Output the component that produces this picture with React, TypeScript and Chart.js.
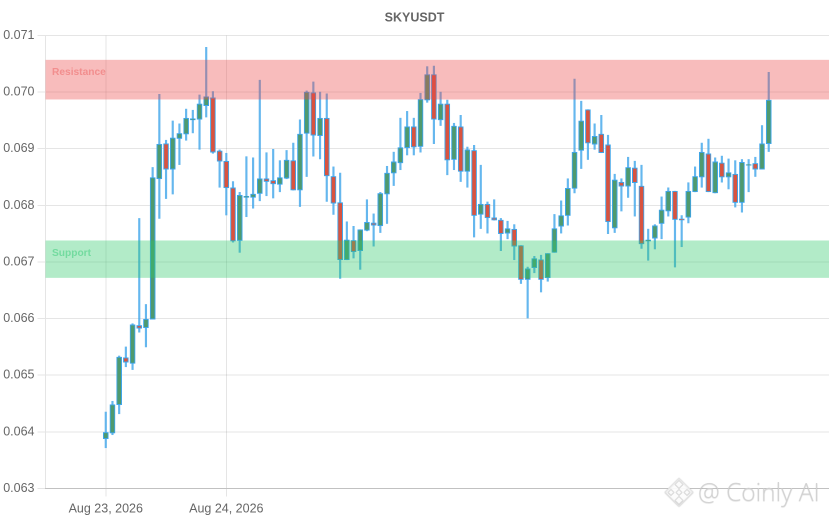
import React, { useEffect, useRef } from "react";
import { Chart, registerables } from "chart.js";

Chart.register(...registerables);

const title = "SKYUSDT";
const dateTicks = [0, 18];
const dateLabels = ["Aug 23, 2026", "Aug 24, 2026"];
const yTicks = [0.063, 0.064, 0.065, 0.066, 0.067, 0.068, 0.069, 0.07, 0.071];

const opens = [
  0.06388, 0.06398, 0.06448, 0.06531, 0.06521, 0.06588, 0.06584, 0.06599, 0.06847, 0.06909,
  0.06864, 0.06918, 0.06926, 0.06951, 0.06952, 0.06976, 0.0699, 0.06896, 0.06878, 0.06831,
  0.06738, 0.06814, 0.06814, 0.06821, 0.06847, 0.06844, 0.06837, 0.06848, 0.06879, 0.06827,
  0.06927, 0.06999, 0.06923, 0.06954, 0.06851, 0.06805, 0.06704, 0.06738, 0.0672, 0.06756,
  0.06769, 0.06764, 0.0682, 0.06857, 0.06875, 0.06902, 0.06939, 0.06904, 0.06986, 0.07031,
  0.06951, 0.06979, 0.06881, 0.06939, 0.0686, 0.06897, 0.06784, 0.06802, 0.06778, 0.06774,
  0.06751, 0.06758, 0.06729, 0.06669, 0.0669, 0.06704, 0.06672, 0.06717, 0.06763, 0.06782,
  0.0683, 0.06897, 0.06969, 0.06908, 0.06926, 0.06907, 0.0676, 0.06841, 0.06834, 0.06866,
  0.06834, 0.06737, 0.06742, 0.06768, 0.0679, 0.06825, 0.06776, 0.06779, 0.06824, 0.0685,
  0.06891, 0.06822, 0.06875, 0.0685, 0.06855, 0.06805, 0.06871, 0.06874, 0.06864, 0.06909,
];
const closes = [
  0.06399, 0.06448, 0.06532, 0.06523, 0.06589, 0.06583, 0.06599, 0.06849, 0.06908, 0.06864,
  0.06919, 0.06927, 0.06954, 0.06953, 0.06979, 0.06992, 0.06894, 0.06878, 0.06831, 0.06737,
  0.06818, 0.06816, 0.0682, 0.06847, 0.06842, 0.06838, 0.06849, 0.0688, 0.06827, 0.06926,
  0.07, 0.06924, 0.06954, 0.06852, 0.06804, 0.06704, 0.06739, 0.06718, 0.06757, 0.0677,
  0.06765, 0.06821, 0.06857, 0.06877, 0.06902, 0.06939, 0.06903, 0.06987, 0.07031, 0.06952,
  0.06979, 0.0688, 0.0694, 0.0686, 0.06898, 0.06782, 0.06802, 0.06778, 0.06774, 0.0675,
  0.06759, 0.06728, 0.06669, 0.06688, 0.06706, 0.06669, 0.06715, 0.06759, 0.06782, 0.0683,
  0.06894, 0.06949, 0.0691, 0.06922, 0.06893, 0.06771, 0.06845, 0.06834, 0.06867, 0.0684,
  0.06732, 0.06739, 0.06764, 0.06792, 0.06825, 0.06775, 0.06774, 0.06825, 0.06851, 0.06894,
  0.06824, 0.06877, 0.0685, 0.06858, 0.06805, 0.06876, 0.06872, 0.06864, 0.06909, 0.06986,
];
const highs = [
  0.06435, 0.06454, 0.06534, 0.0655, 0.06591, 0.06777, 0.06625, 0.06867, 0.06996, 0.06915,
  0.06949, 0.06944, 0.0697, 0.06968, 0.06995, 0.07079, 0.07001, 0.06898, 0.06892, 0.06842,
  0.06823, 0.06886, 0.06884, 0.07021, 0.06893, 0.06899, 0.06879, 0.06897, 0.0691, 0.06951,
  0.07002, 0.07018, 0.07, 0.06997, 0.06868, 0.06857, 0.06771, 0.06763, 0.06757, 0.0681,
  0.06785, 0.06823, 0.06869, 0.06894, 0.06954, 0.06966, 0.06954, 0.06998, 0.07045, 0.07046,
  0.07, 0.06986, 0.06945, 0.06959, 0.06903, 0.06906, 0.06871, 0.06806, 0.0681, 0.06777,
  0.06772, 0.06766, 0.06729, 0.06691, 0.0671, 0.06712, 0.06715, 0.06784, 0.06808, 0.06847,
  0.07023, 0.06984, 0.06969, 0.06944, 0.06959, 0.06924, 0.06855, 0.06847, 0.06885, 0.06878,
  0.06871, 0.06758, 0.06766, 0.06815, 0.06831, 0.06825, 0.06782, 0.0684, 0.06868, 0.0691,
  0.06917, 0.06884, 0.06887, 0.06882, 0.06879, 0.06881, 0.06881, 0.06885, 0.06941, 0.07035,
];
const lows = [
  0.06372, 0.06395, 0.06432, 0.06515, 0.0651, 0.06576, 0.0655, 0.06599, 0.06777, 0.06812,
  0.0682, 0.06872, 0.06915, 0.06928, 0.06899, 0.06956, 0.06892, 0.06832, 0.06783, 0.06735,
  0.06717, 0.0678, 0.06795, 0.06808, 0.06817, 0.06813, 0.06824, 0.06847, 0.06827, 0.06798,
  0.06851, 0.06887, 0.06882, 0.06807, 0.06784, 0.06671, 0.06704, 0.06707, 0.06687, 0.06755,
  0.06728, 0.06752, 0.06768, 0.06835, 0.06863, 0.06889, 0.06889, 0.06894, 0.06982, 0.06909,
  0.06941, 0.06854, 0.06863, 0.06842, 0.06832, 0.06744, 0.06759, 0.06751, 0.06774, 0.0672,
  0.06741, 0.06704, 0.06662, 0.06601, 0.06681, 0.06647, 0.06666, 0.06717, 0.06751, 0.06765,
  0.06822, 0.06865, 0.06881, 0.06899, 0.06893, 0.0675, 0.06752, 0.0679, 0.06814, 0.06781,
  0.06724, 0.06703, 0.06723, 0.06741, 0.06781, 0.06691, 0.06727, 0.06769, 0.06824, 0.06832,
  0.06824, 0.06822, 0.06841, 0.06829, 0.06797, 0.06788, 0.06824, 0.06851, 0.06864, 0.06895,
];

const resistanceBand = [0.06987, 0.07057];
const supportBand = [0.06672, 0.06738];
const resistanceLabel = "Resistance";
const supportLabel = "Support";

const UP = "#4f9a6e";
const DOWN = "#d9533f";
const EDGE = "#3ea5ea";
const WICK = "rgba(62,165,234,0.8)";
const SANS = "'Liberation Sans', Arial, sans-serif";

const bandsPlugin = {
  id: "bands",
  afterDatasetsDraw(chart: any) {
    const { ctx, chartArea, scales } = chart;
    const y = scales.y;
    const draw = (range: number[], fill: string, text: string, textFill: string) => {
      const top = y.getPixelForValue(range[1]);
      const bot = y.getPixelForValue(range[0]);
      ctx.save();
      ctx.fillStyle = fill;
      ctx.fillRect(chartArea.left, top, chartArea.right - chartArea.left, bot - top);
      ctx.fillStyle = textFill;
      ctx.font = `bold 10.2px ${SANS}`;
      ctx.textBaseline = "middle";
      ctx.fillText(text, chartArea.left + 6.5, top + 12.5);
      ctx.restore();
    };
    draw(resistanceBand, "rgba(236,70,70,0.36)", resistanceLabel, "rgba(240,130,130,0.8)");
    draw(supportBand, "rgba(46,200,105,0.37)", supportLabel, "rgba(100,215,150,0.8)");
  },
};

const watermarkPlugin = {
  id: "watermark",
  afterDraw(chart: any) {
    const { ctx } = chart;
    ctx.save();
    ctx.shadowColor = "rgba(0,0,0,0.2)";
    ctx.shadowBlur = 3;
    ctx.shadowOffsetY = 1;
    ctx.fillStyle = "rgba(255,255,255,0.92)";
    ctx.strokeStyle = "#e2e2e2";
    ctx.lineWidth = 0.75;
    const diamond = (cx: number, cy: number, r: number) => {
      ctx.beginPath();
      ctx.moveTo(cx, cy - r);
      ctx.lineTo(cx + r, cy);
      ctx.lineTo(cx, cy + r);
      ctx.lineTo(cx - r, cy);
      ctx.closePath();
      ctx.fill();
      ctx.stroke();
    };
    diamond(679, 492, 14);
    ctx.shadowBlur = 1;
    diamond(679, 484, 4);
    diamond(671, 492, 3);
    diamond(687, 492, 3);
    diamond(679, 492, 3);
    diamond(679, 500, 4);
    ctx.shadowBlur = 2;
    ctx.fillStyle = "rgba(210,210,210,0.95)";
    ctx.font = `300 24.5px 'Open Sans', sans-serif`;
    ctx.textBaseline = "alphabetic";
    ctx.fillText("@ Coinly AI", 698, 501);
    ctx.restore();
  },
};

export default function App() {
  const ref = useRef<HTMLCanvasElement>(null);

  useEffect(() => {
    document.body.style.margin = "0";
    const index = opens.map((_, i) => i);
    const chart = new Chart(ref.current as HTMLCanvasElement, {
      type: "bar",
      data: {
        datasets: [
          {
            label: "Body",
            data: index.map((i) => ({ x: i, y: [opens[i], closes[i]] })),
            backgroundColor: index.map((i) => (closes[i] >= opens[i] ? UP : DOWN)),
            borderColor: EDGE,
            borderWidth: 1,
            borderSkipped: false,
            barThickness: 5,
            grouped: false,
          } as any,
          {
            label: "Wick",
            data: index.map((i) => ({ x: i, y: [lows[i], highs[i]] })),
            backgroundColor: WICK,
            borderWidth: 0,
            barThickness: 1.5,
            grouped: false,
          } as any,
        ],
      },
      options: {
        animation: false,
        responsive: false,
        maintainAspectRatio: false,
        devicePixelRatio: 2,
        layout: { padding: 0 },
        plugins: {
          legend: { display: false },
          tooltip: { enabled: false },
          title: {
            display: true,
            text: title,
            color: "#666",
            font: { family: SANS, size: 12.5, weight: "bold" },
            padding: { top: 10.5, bottom: 10 },
          },
        },
        scales: {
          x: {
            type: "linear",
            offset: false,
            min: -9,
            max: 108,
            afterBuildTicks(axis: any) {
              axis.ticks = dateTicks.map((value) => ({ value }));
            },
            afterFit(axis: any) {
              axis.height = 29.5;
            },
            ticks: {
              color: "#666",
              font: { family: SANS, size: 12.5 },
              padding: 5,
              maxRotation: 0,
              autoSkip: false,
              callback: (v: any) => dateLabels[dateTicks.indexOf(v)] ?? "",
            },
            grid: { offset: false, color: "rgba(0,0,0,0.1)", drawTicks: true },
            border: { color: "rgba(0,0,0,0.16)" },
          },
          y: {
            type: "linear",
            min: 0.063,
            max: 0.071,
            afterBuildTicks(axis: any) {
              axis.ticks = yTicks.map((value) => ({ value }));
            },
            afterFit(axis: any) {
              axis.width = 45.5;
            },
            ticks: {
              color: "#666",
              font: { family: SANS, size: 12.5 },
              callback: (v: any) => Number(v).toFixed(3),
            },
            grid: { color: "rgba(0,0,0,0.1)" },
            border: { color: "rgba(0,0,0,0.1)" },
          },
        },
      },
      plugins: [bandsPlugin, watermarkPlugin],
    } as any);
    return () => chart.destroy();
  }, []);

  return <canvas ref={ref} width={829} height={518} style={{ display: "block" }} />;
}
